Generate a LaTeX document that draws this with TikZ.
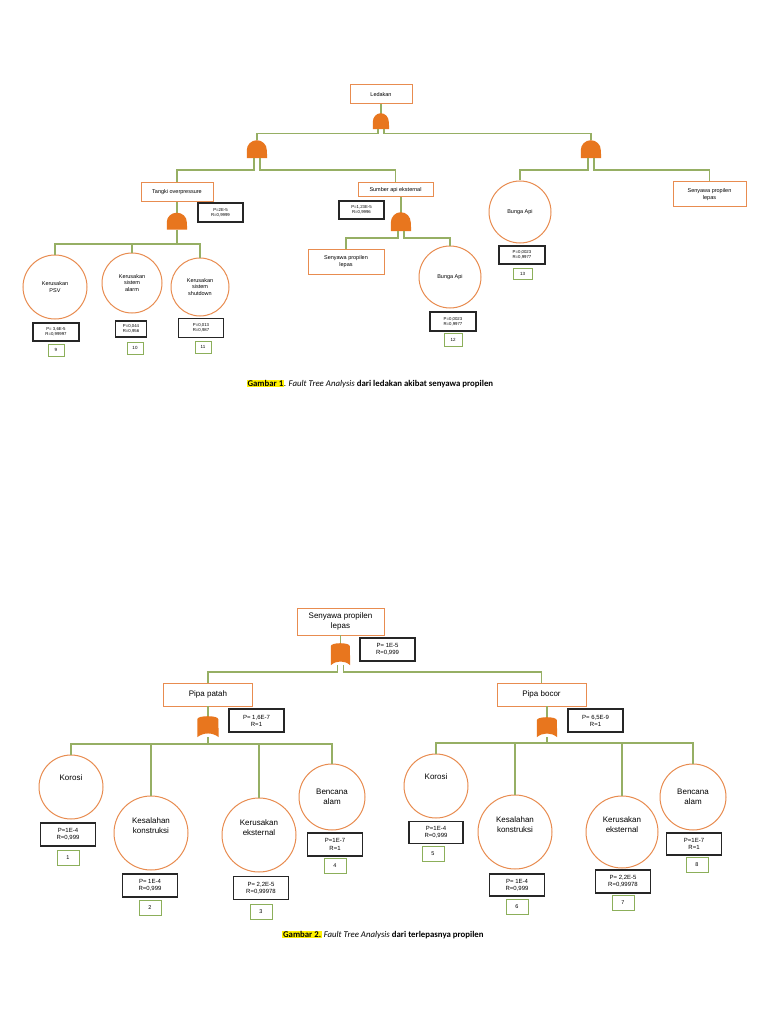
\documentclass[tikz,border=0pt]{standalone}
\usepackage{fontspec}
\setmainfont{Liberation Sans}
\newfontfamily\capfont{Carlito}
\usetikzlibrary{calc}
\definecolor{boxor}{RGB}{232,140,80}
\definecolor{wireg}{RGB}{150,175,100}
\definecolor{numg}{RGB}{140,175,90}
\definecolor{gatec}{RGB}{232,118,30}
\newcommand\AndGate[5]{%
 \node[inner sep=0,minimum width=#4pt,minimum height=#5pt] (#1) at (#2,#3) {};
 \fill[gatec] (#1.south west) -- ++(0,#5*0.45) arc[start angle=180,end angle=0,x radius=#4*0.5,y radius=#5*0.55] -- (#1.south east) -- cycle;}
\newcommand\OrGate[5]{%
 \node[inner sep=0,minimum width=#4pt,minimum height=#5pt] (#1) at (#2,#3) {};
 \fill[gatec] (#1.south west) -- ++(0,#5-3) .. controls ++(0,4) and ++(0,4) .. ++(#4,0) -- (#1.south east) .. controls ++(-0.3*#4,5) and ++(0.3*#4,5) .. (#1.south west) -- cycle;}
\begin{document}
\begin{tikzpicture}[x=1pt,y=1pt,
 ebox/.style={draw=boxor, line width=1pt, fill=white, inner sep=0, align=center},
 pbox/.style={draw=black!85, line width=1.3pt, fill=white, align=center, inner sep=0},
 nbox/.style={draw=numg, line width=1pt, fill=white, inner sep=0},
 circ/.style={circle, draw=boxor, line width=1pt, fill=white, align=center, inner sep=0},
 wire/.style={draw=wireg, line width=1.6pt},
 f1/.style={font=\fontsize{5.5}{6.5}\selectfont},
 fp1/.style={font=\fontsize{4.3}{5.2}\selectfont},
 f2/.style={font=\fontsize{8}{10}\selectfont},
 fp2/.style={font=\fontsize{6}{7.2}\selectfont},
 fn1/.style={font=\fontsize{4.5}{5}\selectfont},
 fn2/.style={font=\fontsize{5.5}{6}\selectfont}]
\useasboundingbox (0,0) rectangle (768,-1024);
\fill[white] (0,0) rectangle (768,-1024);
% ===== Figure 1 =====
\coordinate (b0) at (0,-133.5);
\coordinate (b1) at (0,-170);
\coordinate (b2) at (0,-244);
\coordinate (b3) at (0,-238);
\coordinate (b4) at (0,-170);
\node[ebox,f1,minimum width=62pt,minimum height=19pt] (led) at (381,-94.5) {Ledakan};
\node[ebox,f1,minimum width=72pt,minimum height=19pt] (tank) at (177,-192.5) {Tangki overpressure};
\node[ebox,f1,minimum width=75pt,minimum height=14pt] (sumber) at (395.5,-190) {Sumber api eksternal};
\node[pbox,fp1,minimum width=45pt,minimum height=19pt] (pT) at (220.5,-212.5) {P=2E-5\\R=0,9999};
\node[pbox,fp1,minimum width=45pt,minimum height=18pt] (pS) at (361.5,-210) {P=1,23E-5\\R=0,9996};
\draw[wire] (led.south) -- (381,-121);
\draw[wire] (177,-202) -- (177,-221);
\draw[wire] (401,-197) -- (401,-221);
\AndGate{g0}{381}{-121}{16}{16}
\AndGate{g1}{257}{-149}{20}{18}
\AndGate{g2}{591}{-149}{20}{18}
\AndGate{gT}{177}{-221}{20}{17}
\AndGate{gS}{401}{-221.5}{20}{19}
\node[circ,f1,minimum size=64pt] (c1) at (55,-287) {Kerusakan\\PSV};
\node[circ,f1,minimum size=60pt] (c2) at (132,-283) {Kerusakan\\sistem\\alarm};
\node[circ,f1,minimum size=58pt] (c3) at (200,-287) {Kerusakan\\sistem\\shutdown};
\node[pbox,fp1,minimum width=46pt,minimum height=18pt] at (56,-332) {P= 3,6E-5\\R=0,99997};
\node[pbox,fp1,minimum width=31pt,minimum height=16pt] at (131,-329) {P=0,044\\R=0,956};
\node[pbox,fp1,minimum width=45pt,minimum height=19pt] at (201,-328) {P=0,013\\R=0,987};
\node[nbox,fn1,minimum width=16pt,minimum height=12pt] at (56,-350) {9};
\node[nbox,fn1,minimum width=16pt,minimum height=12pt] at (135,-348) {10};
\node[nbox,fn1,minimum width=16pt,minimum height=12pt] at (203,-347) {11};
\node[ebox,f1,minimum width=76pt,minimum height=25pt] (sen1) at (346,-261.5) {Senyawa propilen\\lepas};
\node[circ,f1,minimum size=62pt] (bunga1) at (450,-277) {Bunga Api};
\node[pbox,fp1,minimum width=46pt,minimum height=19pt] at (453,-321.5) {P=0,0023\\R=0,9977};
\node[nbox,fn1,minimum width=18pt,minimum height=13pt] at (453,-339.5) {12};
\node[circ,f1,minimum size=62pt] (bunga2) at (520,-212) {Bunga Api};
\node[ebox,f1,minimum width=73pt,minimum height=25pt] (sen2) at (709.5,-194.5) {Senyawa propilen\\lepas};
\node[pbox,fp1,minimum width=46pt,minimum height=18pt] at (522,-255) {P=0,0023\\R=0,9977};
\node[nbox,fn1,minimum width=19pt,minimum height=11pt] at (522.5,-273.5) {13};
\draw[wire] ([xshift=-3pt]g0.south) -- ([xshift=-3pt]g0.south |- b0) -| (g1.north);
\draw[wire] ([xshift=3pt]g0.south) -- ([xshift=3pt]g0.south |- b0) -| (g2.north);
\draw[wire] ([xshift=-3pt]g1.south) -- ([xshift=-3pt]g1.south |- b1) -| (tank.north);
\draw[wire] ([xshift=3pt]g1.south) -- ([xshift=3pt]g1.south |- b1) -| (sumber.north);
\draw[wire] (gT.south) -- (gT.south |- b2) -| (c1.north);
\draw[wire] (gT.south |- b2) -| (c2.north);
\draw[wire] (gT.south |- b2) -| (c3.north);
\draw[wire] ([xshift=-3pt]gS.south) -- ([xshift=-3pt]gS.south |- b3) -| (sen1.north);
\draw[wire] ([xshift=3pt]gS.south) -- ([xshift=3pt]gS.south |- b3) -| (bunga1.north);
\draw[wire] ([xshift=-3pt]g2.south) -- ([xshift=-3pt]g2.south |- b4) -| (bunga2.north);
\draw[wire] ([xshift=3pt]g2.south) -- ([xshift=3pt]g2.south |- b4) -| (sen2.north);
\node[font=\capfont\fontsize{8.8}{10}\selectfont] (cap1) at (370,-384) {\setlength\fboxsep{0.6pt}\textbf{\colorbox{yellow}{Gambar 1}}. \textit{Fault Tree Analysis} \textbf{dari ledakan akibat senyawa propilen}};
% ===== Figure 2 =====
\coordinate (d0) at (0,-672);
\coordinate (d1) at (0,-744);
\coordinate (d2) at (0,-743);
\node[ebox,f2,minimum width=87pt,minimum height=27pt] (top) at (340.5,-621.5) {Senyawa propilen\\lepas};
\node[pbox,fp2,minimum width=55pt,minimum height=23pt] at (387.5,-649.5) {P= 1E-5\\R=0,999};
\node[ebox,f2,minimum width=89pt,minimum height=23pt] (patah) at (208,-694.5) {Pipa patah};
\node[ebox,f2,minimum width=89pt,minimum height=23pt] (bocor) at (541.5,-694.5) {Pipa bocor};
\node[pbox,fp2,minimum width=55pt,minimum height=23pt] at (256.5,-720.5) {P= 1,6E-7\\R=1};
\node[pbox,fp2,minimum width=55pt,minimum height=23pt] at (595.5,-720.5) {P= 6,5E-9\\R=1};
\draw[wire] (340.5,-635) -- (340.5,-654);
\draw[wire] (208,-706) -- (208,-726);
\draw[wire] (547,-706) -- (547,-727);
\OrGate{gTop}{340.5}{-654}{19}{22}
\OrGate{gPat}{208}{-726.5}{21}{21}
\OrGate{gBoc}{547}{-727}{20}{20}
\draw[wire] ([xshift=-3pt]gTop.south) -- ([xshift=-3pt]gTop.south |- d0) -| (patah.north);
\draw[wire] ([xshift=3pt]gTop.south) -- ([xshift=3pt]gTop.south |- d0) -| (bocor.north);
% left children
\node[circ,f2,minimum size=64pt] (k1) at (71,-787) {Korosi\\[8pt]};
\node[circ,f2,minimum size=74pt] (k2) at (151,-833) {Kesalahan\\konstruksi\\[4pt]};
\node[circ,f2,minimum size=74pt] (k3) at (259,-835) {Kerusakan\\eksternal\\[4pt]};
\node[circ,f2,minimum size=66pt] (k4) at (332,-797) {Bencana\\alam};
\node[pbox,fp2,minimum width=55pt,minimum height=23pt] at (68,-834.5) {P=1E-4\\R=0,999};
\node[pbox,fp2,minimum width=55pt,minimum height=23pt] at (150,-885.5) {P= 1E-4\\R=0,999};
\node[pbox,fp2,minimum width=55pt,minimum height=23pt] at (261,-888) {P= 2,2E-5\\R=0,99978};
\node[pbox,fp2,minimum width=55pt,minimum height=23pt] at (335,-844.5) {P=1E-7\\R=1};
\node[nbox,fn2,minimum width=22pt,minimum height=15pt] at (68,-857.5) {1};
\node[nbox,fn2,minimum width=22pt,minimum height=15pt] at (150,-908) {2};
\node[nbox,fn2,minimum width=22pt,minimum height=15pt] at (261,-912) {3};
\node[nbox,fn2,minimum width=22pt,minimum height=15pt] at (335,-866) {4};
\draw[wire] (gPat.south) -- (gPat.south |- d1) -| (k1.north);
\draw[wire] (gPat.south |- d1) -| (k2.north);
\draw[wire] (gPat.south |- d1) -| (k3.north);
\draw[wire] (gPat.south |- d1) -| (k4.north);
% right children
\node[circ,f2,minimum size=64pt] (m1) at (436,-786) {Korosi\\[8pt]};
\node[circ,f2,minimum size=74pt] (m2) at (515,-832) {Kesalahan\\konstruksi\\[4pt]};
\node[circ,f2,minimum size=72pt] (m3) at (622,-832) {Kerusakan\\eksternal\\[4pt]};
\node[circ,f2,minimum size=66pt] (m4) at (693,-797) {Bencana\\alam};
\node[pbox,fp2,minimum width=54pt,minimum height=22pt] at (436,-832.5) {P=1E-4\\R=0,999};
\node[pbox,fp2,minimum width=55pt,minimum height=22pt] at (517,-885) {P= 1E-4\\R=0,999};
\node[pbox,fp2,minimum width=55pt,minimum height=23pt] at (623,-881.5) {P= 2,2E-5\\R=0,99978};
\node[pbox,fp2,minimum width=55pt,minimum height=22pt] at (694,-844) {P=1E-7\\R=1};
\node[nbox,fn2,minimum width=22pt,minimum height=15pt] at (433,-854) {5};
\node[nbox,fn2,minimum width=22pt,minimum height=15pt] at (517,-907) {6};
\node[nbox,fn2,minimum width=22pt,minimum height=15pt] at (623,-903) {7};
\node[nbox,fn2,minimum width=22pt,minimum height=15pt] at (697,-865) {8};
\draw[wire] (gBoc.south) -- (gBoc.south |- d2) -| (m1.north);
\draw[wire] (gBoc.south |- d2) -| (m2.north);
\draw[wire] (gBoc.south |- d2) -| (m3.north);
\draw[wire] (gBoc.south |- d2) -| (m4.north);
\node[font=\capfont\fontsize{8.8}{10}\selectfont] (cap2) at (383,-935) {\setlength\fboxsep{0.6pt}\textbf{\colorbox{yellow}{Gambar 2.}} \textit{Fault Tree Analysis} \textbf{dari terlepasnya propilen}};
\end{tikzpicture}
\end{document}
